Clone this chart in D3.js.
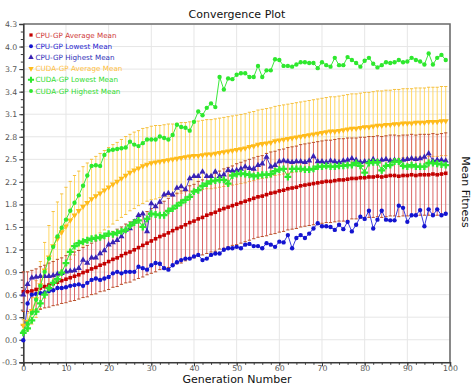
<!DOCTYPE html>
<html>
<head>
<meta charset="utf-8">
<script src="https://cdn.jsdelivr.net/npm/d3@7"></script>
<style>
body { margin:0; background:#fff; }
text { font-family: "DejaVu Sans", sans-serif; }
</style>
</head>
<body>
<svg id="chart" width="474" height="385"></svg>
<script>
//## data, one value per generation (0..99)
var generations = d3.range(0, 100);

var cpuAvg = [0.66,0.66,0.67,0.69,0.71,0.73,0.75,0.77,0.79,0.81,
    0.83,0.85,0.87,0.89,0.92,0.94,0.97,0.99,1.02,1.04,
    1.07,1.10,1.12,1.15,1.18,1.20,1.23,1.26,1.29,1.32,
    1.35,1.38,1.41,1.43,1.46,1.49,1.52,1.54,1.57,1.60,
    1.62,1.65,1.67,1.70,1.72,1.74,1.77,1.79,1.81,1.83,
    1.85,1.87,1.89,1.91,1.93,1.95,1.96,1.98,2.00,2.01,
    2.03,2.04,2.06,2.07,2.08,2.10,2.11,2.12,2.13,2.14,
    2.15,2.16,2.16,2.17,2.18,2.18,2.19,2.20,2.20,2.21,
    2.21,2.22,2.22,2.23,2.22,2.23,2.24,2.24,2.23,2.24,
    2.24,2.25,2.24,2.25,2.25,2.25,2.26,2.25,2.26,2.27];

var cpuAvgErr = [0.27,0.27,0.28,0.28,0.29,0.29,0.30,0.30,0.31,0.31,
    0.32,0.32,0.33,0.33,0.34,0.35,0.35,0.36,0.36,0.37,
    0.38,0.38,0.39,0.39,0.40,0.41,0.41,0.42,0.43,0.43,
    0.44,0.45,0.45,0.46,0.47,0.47,0.48,0.49,0.49,0.50,
    0.50,0.51,0.51,0.52,0.52,0.53,0.53,0.54,0.54,0.54,
    0.55,0.55,0.55,0.55,0.55,0.55,0.55,0.56,0.56,0.56,
    0.56,0.56,0.56,0.56,0.56,0.56,0.56,0.56,0.56,0.56,
    0.56,0.56,0.56,0.56,0.56,0.56,0.56,0.55,0.55,0.55,
    0.55,0.55,0.55,0.55,0.55,0.55,0.55,0.55,0.55,0.55,
    0.55,0.55,0.55,0.55,0.55,0.55,0.55,0.55,0.55,0.55];

var cpuLow = [0.00,0.50,0.62,0.63,0.64,0.65,0.67,0.68,0.71,0.71,
    0.72,0.74,0.75,0.76,0.74,0.78,0.82,0.84,0.82,0.84,
    0.86,0.91,0.93,0.91,0.93,0.93,0.93,1.00,0.98,0.96,
    1.02,1.05,1.04,0.98,0.96,1.02,1.06,1.09,1.11,1.11,
    1.14,1.16,1.09,1.11,1.16,1.18,1.18,1.23,1.25,1.25,
    1.27,1.25,1.30,1.31,1.28,1.28,1.25,1.32,1.30,1.27,
    1.34,1.33,1.43,1.25,1.39,1.43,1.39,1.45,1.52,1.59,
    1.55,1.55,1.54,1.50,1.57,1.51,1.61,1.48,1.57,1.68,
    1.65,1.76,1.52,1.64,1.76,1.64,1.63,1.63,1.83,1.80,
    1.61,1.70,1.70,1.77,1.55,1.78,1.70,1.78,1.70,1.72];

var cpuHigh = [0.62,0.76,0.85,0.86,0.87,0.87,0.87,0.88,0.90,0.91,
    0.93,0.94,0.95,0.98,1.09,1.05,1.12,1.12,1.18,1.22,
    1.30,1.33,1.36,1.41,1.50,1.52,1.61,1.70,1.72,1.48,
    1.86,1.82,1.88,1.98,2.00,1.98,2.07,2.09,2.05,2.20,
    2.23,2.23,2.29,2.23,2.23,2.29,2.23,2.25,2.31,2.30,
    2.31,2.33,2.36,2.34,2.33,2.38,2.40,2.49,2.36,2.38,
    2.43,2.44,2.43,2.42,2.43,2.43,2.42,2.44,2.50,2.43,
    2.43,2.42,2.44,2.43,2.42,2.44,2.45,2.47,2.45,2.42,
    2.43,2.43,2.46,2.43,2.45,2.46,2.44,2.45,2.44,2.45,
    2.46,2.47,2.46,2.47,2.49,2.54,2.44,2.45,2.45,2.44];

var cudaAvg = [0.20,0.25,0.40,0.56,0.75,0.95,1.13,1.28,1.38,1.47,
    1.55,1.63,1.70,1.76,1.82,1.87,1.92,1.96,2.00,2.04,
    2.08,2.12,2.16,2.20,2.24,2.28,2.31,2.34,2.37,2.39,
    2.41,2.42,2.43,2.44,2.45,2.46,2.47,2.48,2.49,2.50,
    2.51,2.51,2.52,2.53,2.53,2.54,2.55,2.56,2.57,2.58,
    2.59,2.60,2.61,2.63,2.64,2.66,2.67,2.68,2.69,2.71,
    2.72,2.73,2.74,2.75,2.76,2.77,2.78,2.79,2.80,2.81,
    2.82,2.83,2.84,2.84,2.85,2.86,2.87,2.88,2.88,2.89,
    2.90,2.90,2.91,2.92,2.92,2.93,2.93,2.94,2.94,2.95,
    2.95,2.95,2.96,2.96,2.96,2.97,2.97,2.97,2.98,2.98];

var cudaAvgErr = [0.08,0.12,0.18,0.25,0.32,0.38,0.43,0.47,0.50,0.52,
    0.53,0.53,0.54,0.54,0.54,0.54,0.54,0.54,0.54,0.54,
    0.54,0.54,0.53,0.53,0.53,0.52,0.52,0.51,0.51,0.50,
    0.50,0.50,0.49,0.49,0.49,0.48,0.48,0.48,0.47,0.47,
    0.47,0.47,0.47,0.47,0.47,0.47,0.47,0.47,0.47,0.47,
    0.47,0.47,0.47,0.47,0.47,0.47,0.47,0.47,0.47,0.47,
    0.47,0.47,0.47,0.47,0.47,0.47,0.47,0.47,0.47,0.47,
    0.47,0.47,0.47,0.47,0.47,0.47,0.47,0.47,0.47,0.47,
    0.47,0.47,0.47,0.47,0.47,0.47,0.47,0.47,0.47,0.47,
    0.47,0.47,0.47,0.47,0.47,0.47,0.47,0.47,0.47,0.47];

var cudaLow = [0.10,0.16,0.27,0.39,0.50,0.62,0.71,0.78,0.83,0.92,
    1.05,1.20,1.28,1.32,1.34,1.36,1.38,1.39,1.40,1.42,
    1.45,1.44,1.46,1.48,1.50,1.56,1.60,1.63,1.54,1.65,
    1.72,1.71,1.70,1.70,1.76,1.79,1.83,1.87,1.91,1.95,
    2.02,2.04,2.10,2.13,2.16,2.17,2.18,2.18,2.13,2.24,
    2.26,2.27,2.26,2.25,2.23,2.24,2.25,2.25,2.26,2.30,
    2.32,2.33,2.22,2.33,2.33,2.33,2.32,2.32,2.33,2.36,
    2.36,2.37,2.36,2.36,2.37,2.37,2.38,2.38,2.41,2.37,
    2.28,2.41,2.42,2.42,2.31,2.37,2.38,2.43,2.43,2.37,
    2.36,2.38,2.36,2.36,2.36,2.41,2.41,2.40,2.39,2.38];

var cudaHigh = [0.12,0.23,0.37,0.55,0.74,0.93,1.11,1.27,1.41,1.53,
    1.64,1.76,1.87,1.97,2.10,2.24,2.37,2.38,2.37,2.52,
    2.58,2.59,2.60,2.61,2.62,2.70,2.66,2.64,2.68,2.73,
    2.73,2.73,2.77,2.75,2.73,2.79,2.93,2.90,2.89,2.85,
    2.97,3.11,3.06,3.16,3.22,3.17,3.58,3.41,3.56,3.55,
    3.61,3.63,3.63,3.58,3.58,3.73,3.58,3.67,3.67,3.82,
    3.81,3.73,3.73,3.72,3.75,3.78,3.78,3.77,3.77,3.70,
    3.78,3.74,3.72,3.84,3.74,3.74,3.85,3.81,3.77,3.72,
    3.80,3.84,3.76,3.71,3.74,3.78,3.77,3.78,3.81,3.78,
    3.79,3.84,3.81,3.79,3.75,3.90,3.75,3.84,3.88,3.81];

var seriesNames = ["CPU-GP Average Mean", "CPU-GP Lowest Mean", "CPU-GP Highest Mean",
    "CUDA-GP Average Mean", "CUDA-GP Lowest Mean", "CUDA-GP Highest Mean"];
var xTickValues = [0, 10, 20, 30, 40, 50, 60, 70, 80, 90, 100];
var yTickLabels = ["-0.3", "0.0", "0.3", "0.6", "0.9", "1.2", "1.5", "1.8",
    "2.2", "2.5", "2.8", "3.1", "3.4", "3.7", "4.0", "4.3"];

//## layout
var svg = d3.select("#chart");
var plotLeft = 23.3, plotRight = 450, plotTop = 24, plotBottom = 362.3;

var x = d3.scaleLinear().domain([0, 100]).range([plotLeft, plotRight]);
var y = d3.scaleLinear().domain([-0.3, 4.3]).range([plotBottom, plotTop]);

// y ticks are 15 equal steps across the domain, labelled to one decimal
var yStep = (4.3 - (-0.3)) / (yTickLabels.length - 1);
var yTickValues = yTickLabels.map(function (d, i) { return -0.3 + i * yStep; });
var yMinor = d3.range(0, (yTickLabels.length - 1) * 3 + 1).map(function (i) { return -0.3 + i * yStep / 3; });
var xMinor = d3.range(0, 101, 2);

//## grid
svg.append("g").selectAll("line").data(xTickValues).enter().append("line")
    .attr("x1", function (d) { return x(d); }).attr("x2", function (d) { return x(d); })
    .attr("y1", plotTop).attr("y2", plotBottom)
    .attr("stroke", "#e6e6e6").attr("stroke-width", 1);
svg.append("g").selectAll("line").data(yTickValues).enter().append("line")
    .attr("x1", plotLeft).attr("x2", plotRight)
    .attr("y1", function (d) { return y(d); }).attr("y2", function (d) { return y(d); })
    .attr("stroke", "#e6e6e6").attr("stroke-width", 1);

//## frame (top and right)
svg.append("path")
    .attr("d", "M" + plotLeft + "," + plotTop + "H" + plotRight + "V" + plotBottom)
    .attr("fill", "none").attr("stroke", "#6e6e6e").attr("stroke-width", 1.6);

//## axes
function styleAxis(g) {
    g.select(".domain").attr("stroke", "#3a3a3a").attr("stroke-width", 1.6);
    g.selectAll(".tick line").attr("stroke", "#3a3a3a");
    g.selectAll(".tick text").attr("fill", "#555").attr("font-size", "7.8px")
        .attr("font-family", "DejaVu Sans, sans-serif");
}

var yMinorAxis = svg.append("g").attr("transform", "translate(" + plotLeft + ",0)")
    .call(d3.axisLeft(y).tickValues(yMinor).tickSize(2.5).tickFormat(""));
yMinorAxis.select(".domain").remove();
yMinorAxis.selectAll(".tick line").attr("stroke", "#3a3a3a");

var xMinorAxis = svg.append("g").attr("transform", "translate(0," + plotBottom + ")")
    .call(d3.axisBottom(x).tickValues(xMinor).tickSize(2.5).tickFormat(""));
xMinorAxis.select(".domain").remove();
xMinorAxis.selectAll(".tick line").attr("stroke", "#3a3a3a");

var yAxis = svg.append("g").attr("transform", "translate(" + plotLeft + ",0)")
    .call(d3.axisLeft(y).tickValues(yTickValues).tickSize(4).tickPadding(2)
        .tickFormat(function (d, i) { return yTickLabels[i]; }));
styleAxis(yAxis);

var xAxis = svg.append("g").attr("transform", "translate(0," + plotBottom + ")")
    .call(d3.axisBottom(x).tickValues(xTickValues).tickSize(4).tickPadding(-1.2));
styleAxis(xAxis);

//## error bars
function drawErrorBars(mean, err, barColor, capColor) {
    var g = svg.append("g");
    var rows = generations.map(function (gen, i) { return {g: gen, lo: mean[i] - err[i], hi: mean[i] + err[i]}; });
    g.selectAll("line.bar").data(rows).enter().append("line")
        .attr("x1", function (d) { return x(d.g); }).attr("x2", function (d) { return x(d.g); })
        .attr("y1", function (d) { return y(d.lo); }).attr("y2", function (d) { return y(d.hi); })
        .attr("stroke", barColor).attr("stroke-width", 1);
    ["lo", "hi"].forEach(function (k) {
        g.selectAll("line.cap" + k).data(rows).enter().append("line")
            .attr("x1", function (d) { return x(d.g) - 1.6; }).attr("x2", function (d) { return x(d.g) + 1.6; })
            .attr("y1", function (d) { return y(d[k]); }).attr("y2", function (d) { return y(d[k]); })
            .attr("stroke", capColor).attr("stroke-width", 1);
    });
}
drawErrorBars(cudaAvg, cudaAvgErr, "#ffd766", "#f5c040");
drawErrorBars(cpuAvg, cpuAvgErr, "#dc6868", "#b8502a");

//## series
var series = [
    {name: seriesNames[0], values: cpuAvg,  line: "#d42a2a", fill: "#c40000", text: "#d03a3a", symbol: d3.symbolSquare,   size: 13, rot: 0},
    {name: seriesNames[1], values: cpuLow,  line: "#3a3ae0", fill: "#1414d0", text: "#2525d0", symbol: d3.symbolCircle,   size: 15, rot: 0},
    {name: seriesNames[2], values: cpuHigh, line: "#4a3cc8", fill: "#3a22b4", text: "#3030b8", symbol: d3.symbolTriangle, size: 16, rot: 0},
    {name: seriesNames[3], values: cudaAvg, line: "#ffc23a", fill: "#ffbb1a", text: "#ffc040", symbol: d3.symbolTriangle, size: 16, rot: 180},
    {name: seriesNames[4], values: cudaLow, line: "#3ce83c", fill: "#2ee82e", text: "#30dc30", symbol: d3.symbolCross,    size: 26, rot: 0},
    {name: seriesNames[5], values: cudaHigh,line: "#3ce83c", fill: "#2ee82e", text: "#30dc30", symbol: d3.symbolCircle,   size: 15, rot: 0}
];

var line = d3.line()
    .x(function (d, i) { return x(generations[i]); })
    .y(function (d) { return y(d); });

series.forEach(function (s) {
    svg.append("path").datum(s.values)
        .attr("d", line)
        .attr("fill", "none").attr("stroke", s.line).attr("stroke-width", 1);
    svg.append("g").selectAll("path").data(s.values).enter().append("path")
        .attr("d", d3.symbol().type(s.symbol).size(s.size))
        .attr("transform", function (d, i) {
            return "translate(" + x(generations[i]) + "," + y(d) + ") rotate(" + s.rot + ")";
        })
        .attr("fill", s.fill);
});

//## legend
var legend = svg.append("g");
var legendTop = 35, legendSpacing = 11.2;
series.forEach(function (s, i) {
    var ly = legendTop + i * legendSpacing;
    legend.append("path")
        .attr("d", d3.symbol().type(s.symbol).size(s.size * 0.8))
        .attr("transform", "translate(31," + ly + ") rotate(" + s.rot + ")")
        .attr("fill", s.fill);
    legend.append("text")
        .attr("x", 35.5).attr("y", ly + 2.6)
        .attr("font-size", "7.2px")
        .attr("fill", s.text)
        .text(s.name);
});

//## titles
svg.append("text").attr("x", 237).attr("y", 17.5).attr("text-anchor", "middle")
    .attr("font-size", "11px").attr("fill", "#111").text("Convergence Plot");
svg.append("text").attr("x", 237).attr("y", 383).attr("text-anchor", "middle")
    .attr("font-size", "11px").attr("fill", "#111").text("Generation Number");
svg.append("text").attr("transform", "translate(462,192) rotate(90)").attr("text-anchor", "middle")
    .attr("font-size", "11px").attr("fill", "#111").text("Mean Fitness");
</script>
</body>
</html>
